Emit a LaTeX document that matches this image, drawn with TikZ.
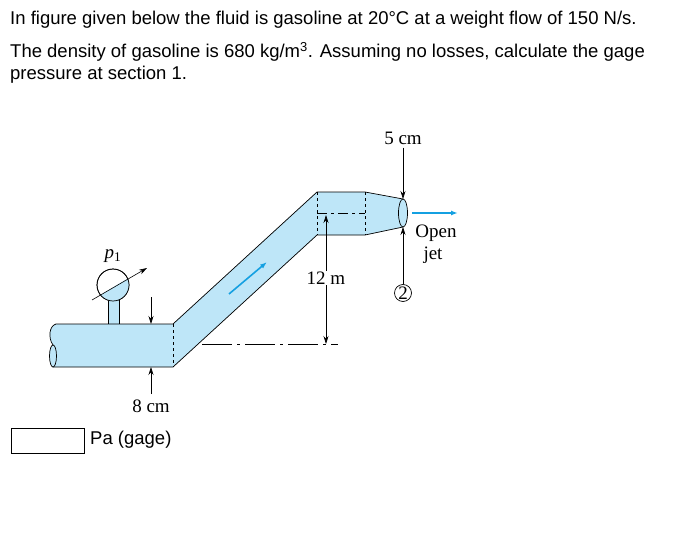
\documentclass[tikz,border=0pt]{standalone}
\usepackage{fontspec}
\setmainfont{Liberation Sans}
\newfontfamily\serifff{Liberation Serif}
\usetikzlibrary{arrows.meta}
\definecolor{fluid}{RGB}{190,230,248}
\definecolor{jetblue}{RGB}{20,160,225}
\begin{document}
\begin{tikzpicture}[x=1pt,y=-1pt,
  pipe/.style={fill=fluid,draw=black,line width=0.7pt},
  dim/.style={-{Stealth[length=8pt,width=5pt]},line width=0.6pt},
  lbl/.style={font=\serifff\fontsize{19}{21}\selectfont,inner sep=0pt},
  body/.style={font=\fontsize{18.5}{21}\selectfont,anchor=west,inner sep=0pt},
  flow/.style={-{Latex[length=7pt,width=5pt]},jetblue,line width=1.6pt}]
\useasboundingbox (0,0) rectangle (698,540);
% text
\node[body] (t1) at (10,20) {In figure given below the fluid is gasoline at 20°C at a weight flow of 150 N/s.};
\node[body] (t2) at (10,52) {The density of gasoline is 680 kg/m\textsuperscript{3}. Assuming no losses, calculate the gage};
\node[body] (t3) at (10,75) {pressure at section 1.};
\draw[line width=0.6pt] (11,428) rectangle (84,453);
\node[body] (pa) at (90,440) {Pa (gage)};
% gauge stem
\fill[fluid] (108,300) rectangle (119,326);
\draw[line width=0.7pt] (108,324) -- (108,300) (119,324) -- (119,300);
% pipe
\draw[pipe] (56,324) -- (173,324) -- (317,192) -- (365,192) -- (403,199) -- (403,227) -- (365,235) -- (317,235) -- (173,367) -- (53,367)
  -- (53,345) .. controls (48,338) and (49,326) .. (56,324);
\draw[line width=0.7pt,fill=fluid] (53,356) ellipse (3.5 and 11);
\draw[line width=0.7pt,fill=fluid] (403,213) ellipse (4.5 and 14);
\draw[dashed,line width=0.7pt] (173,324) -- (173,367) (317,192) -- (317,235) (365,192) -- (365,235);
\draw[dash pattern=on 10pt off 4pt on 3pt off 4pt,line width=0.7pt] (317,213) -- (365,213);
\draw[dash pattern=on 30pt off 5pt on 3pt off 5pt,line width=0.7pt] (202,344) -- (338,344);
% gauge
\draw[line width=0.7pt,fill=white] (113,285) circle (16);
\begin{scope}
\clip (113,285) circle (16);
\fill[fluid] (92,300) -- (145,268) -- (145,310) -- (92,310) -- cycle;
\end{scope}
\fill[fluid] (109,299) rectangle (118,303);
\draw[line width=0.7pt] (113,285) circle (16);
\coordinate (ga) at (92,300);
\coordinate (gb) at (147,268);
\draw[dim] (ga) -- (gb);
\node[lbl] (p1) at (113,256) {\itshape p\textsubscript{\upshape 1}};
% dims
\coordinate (a1) at (151,297); \coordinate (a2) at (151,324);
\draw[dim] (a1) -- (a2);
\coordinate (b1) at (151,394); \coordinate (b2) at (151,367);
\draw[dim] (b1) -- (b2);
\node[lbl] (e8) at (151,406) {8 cm};
\node[lbl,fill=white,inner sep=1pt] (m12) at (326,278) {12 m};
\draw[dim] (m12.north) -- (326,215);
\draw[dim] (m12.south) -- (326,344);
\node[lbl] (c5) at (403,138) {5 cm};
\draw[dim] (c5.south) ++(0,3) -- (403,199);
\node[lbl,circle,draw,line width=0.7pt,minimum size=17pt,inner sep=0pt] (s2) at (403,293) {2};
\draw[dim] (s2.north) -- (403,227);
\node[lbl] (op) at (436,233) {Open};
\node[lbl] (jt) at (433,255) {jet};
\coordinate (j1) at (412,213); \coordinate (j2) at (458,213);
\draw[flow] (j1) -- (j2);
\coordinate (f1) at (229,294); \coordinate (f2) at (267,262);
\draw[flow] (f1) -- (f2);
\end{tikzpicture}
\end{document}
